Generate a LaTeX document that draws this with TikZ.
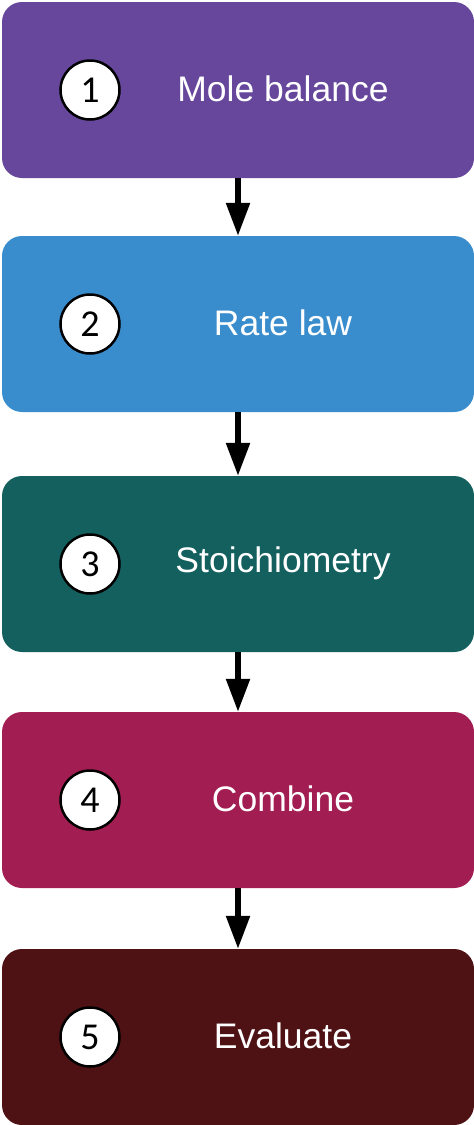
\documentclass[tikz,border=0pt]{standalone}
\usepackage{fontspec}
\setmainfont{Liberation Sans}
\newfontfamily\numfont{Carlito}
\usetikzlibrary{arrows.meta}
\definecolor{cA}{HTML}{66479B}
\definecolor{cB}{HTML}{3A8DCD}
\definecolor{cC}{HTML}{13605F}
\definecolor{cD}{HTML}{A11D52}
\definecolor{cE}{HTML}{4E1215}
\tikzset{
  stepbox/.style={rectangle, rounded corners=20pt, draw=none, minimum width=472pt, minimum height=176pt, inner sep=0pt},
  numcirc/.style={circle, draw=black, line width=2.5pt, fill=white, minimum size=59pt, inner sep=0pt, font=\numfont\fontsize{38}{40}\selectfont},
  steplabel/.style={text=white, inner sep=0pt, font=\fontsize{35.5}{40}\selectfont},
  arr/.style={line width=5.5pt, -{Triangle[length=33pt,width=23pt]}}
}
\begin{document}
\begin{tikzpicture}[x=1pt,y=-1pt]
\useasboundingbox (0,0) rectangle (474,1125);
\node[stepbox, fill=cA] (b1) at (238,90) {};
\node[stepbox, fill=cB] (b2) at (238,324) {};
\node[stepbox, fill=cC] (b3) at (238,564) {};
\node[stepbox, fill=cD] (b4) at (238,800) {};
\node[stepbox, fill=cE] (b5) at (238,1037) {};
\node[numcirc] (n1) at (90,90) {1};
\node[numcirc] (n2) at (90,324) {2};
\node[numcirc] (n3) at (90,564) {3};
\node[numcirc] (n4) at (90,800) {4};
\node[numcirc] (n5) at (90,1037) {5};
\node[steplabel] (t1) at (283,89) {Mole balance};
\node[steplabel] (t2) at (283,323) {Rate law};
\node[steplabel] (t3) at (283,563) {Stoichiometry};
\node[steplabel] (t4) at (283,799) {Combine};
\node[steplabel] (t5) at (283,1036) {Evaluate};
\draw[arr] (b1.south) -- (b2.north);
\draw[arr] (b2.south) -- (b3.north);
\draw[arr] (b3.south) -- (b4.north);
\draw[arr] (b4.south) -- (b5.north);
\end{tikzpicture}
\end{document}
